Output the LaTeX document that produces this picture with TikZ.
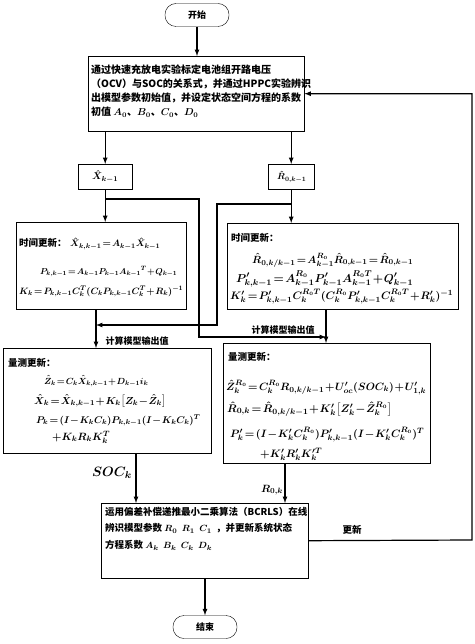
\documentclass[tikz,border=0pt]{standalone}
\usepackage{fontspec}
\usepackage{amsmath}
\usepackage{graphicx}
\newfontfamily\cjk{Noto Sans CJK SC}
\usetikzlibrary{arrows}
\newcommand{\fiteq}[2]{\resizebox{#1pt}{!}{\medmuskip=1mu\relax\thickmuskip=2mu\relax\boldmath$#2$}}
\tikzset{
    term/.style={
        draw, rectangle, rounded corners=11pt,
        minimum width=64pt, minimum height=23pt,
        inner sep=0pt, font=\cjk\bfseries\fontsize{9}{11}\selectfont
    },
    block/.style={draw, rectangle, inner sep=0pt, anchor=north west},
    txt/.style={anchor=west, inner sep=0pt, font=\cjk\bfseries\fontsize{9.5}{14}\selectfont},
    eq/.style={anchor=base west, inner sep=0pt, font=\fontsize{11}{13}\selectfont},
    connect/.style={-latex, line width=1.2pt},
    line width=1.2pt, x=1pt, y=-1pt
}

\begin{document}
\begin{tikzpicture}
	\useasboundingbox (0,0) rectangle (474,644);

	% start and first block
	\node[term] (start) at (197,15) {开始};
	\node[block, minimum width=216pt, minimum height=75pt] (init) at (88,56) {};
	\node[txt, anchor=north west, align=left, font=\cjk\bfseries\fontsize{10}{14}\selectfont] (inittext) at (91,65)
	    {通过快速充放电实验标定电池组开路电压\\（OCV）与SOC的关系式，并通过HPPC实验辨识\\出模型参数初始值，并设定状态空间方程的系数\\初值 $\boldsymbol{A_0}$、$\boldsymbol{B_0}$、$\boldsymbol{C_0}$、$\boldsymbol{D_0}$};

	% initial values
	\node[block, minimum width=54pt, minimum height=25pt] (xk) at (78,164) {};
	\node[eq] (xktext) at (92,180) {\fiteq{26}{\hat X_{k-1}}};
	\node[block, minimum width=46pt, minimum height=25pt] (rk) at (268,164) {};
	\node[eq] (rktext) at (277,180) {\fiteq{29}{\hat R_{0,k-1}}};

	% time update
	\node[block, minimum width=170pt, minimum height=87pt] (tu1) at (16,222) {};
	\node[txt] (tu1h) at (19,243) {时间更新：};
	\node[eq] (tu1a) at (70,247) {\fiteq{90}{\hat X_{k,k-1}=A_{k-1}\hat X_{k-1}}};
	\node[eq] (tu1b) at (40,274) {\fiteq{137}{P_{k,k-1}=A_{k-1}P_{k-1}{A_{k-1}}^T+Q_{k-1}}};
	\node[eq] (tu1c) at (19,294) {\fiteq{164}{K_k=P_{k,k-1}C_k^T(C_kP_{k,k-1}C_k^T+R_k)^{-1}}};

	\node[block, minimum width=231pt, minimum height=86pt] (tu2) at (227,223) {};
	\node[txt] (tu2h) at (231,238) {时间更新：};
	\node[eq] (tu2a) at (252,263) {\fiteq{161}{\hat R_{0,k/k-1}=A_{k-1}^{R_0}\hat R_{0,k-1}=\hat R_{0,k-1}}};
	\node[eq] (tu2b) at (236,282) {\fiteq{177}{P'_{k,k-1}=A_{k-1}^{R_0}P'_{k-1}A_{k-1}^{R_0T}+Q'_{k-1}}};
	\node[eq] (tu2c) at (230,299) {\fiteq{223}{K'_k=P'_{k,k-1}C_k^{R_0T}(C_k^{R_0}P'_{k,k-1}C_k^{R_0T}+R'_k)^{-1}}};

	% measurement update
	\node[block, minimum width=208pt, minimum height=105pt] (mu1) at (3,348) {};
	\node[txt] (mu1h) at (8,363) {量测更新：};
	\node[eq] (mu1a) at (44,384) {\fiteq{104}{\hat Z_k=C_k\hat X_{k,k-1}+D_{k-1}i_k}};
	\node[eq] (mu1b) at (34,404) {\fiteq{132}{\hat X_k=\hat X_{k,k-1}+K_k\bigl[Z_k-\hat Z_k\bigr]}};
	\node[eq] (mu1c) at (36,423) {\fiteq{164}{P_k=(I-K_kC_k)P_{k,k-1}(I-K_kC_k)^T}};
	\node[eq] (mu1d) at (52,440) {\fiteq{58}{+K_kR_kK_k^T}};

	\node[block, minimum width=207pt, minimum height=120pt] (mu2) at (223,343) {};
	\node[txt] (mu2h) at (228,357) {量测更新：};
	\node[eq] (mu2a) at (226,390) {\fiteq{200}{\hat Z_k^{R_0}=C_k^{R_0}R_{0,k/k-1}+U'_{oc}(SOC_k)+U'_{1,k}}};
	\node[eq] (mu2b) at (227,412) {\fiteq{165}{\hat R_{0,k}=\hat R_{0,k/k-1}+K'_k\bigl[Z'_k-\hat Z_k^{R_0}\bigr]}};
	\node[eq] (mu2c) at (230,437) {\fiteq{194}{P'_k=(I-K'_kC_k^{R_0})P'_{k,k-1}(I-K'_kC_k^{R_0})^T}};
	\node[eq] (mu2d) at (260,457) {\fiteq{62}{+K'_kR'_kK^{\prime T}_k}};

	% parameter identification and end
	\node[block, minimum width=207pt, minimum height=75pt] (bc) at (101,503) {};
	\node[txt, anchor=north west, align=left, font=\cjk\bfseries\fontsize{9.5}{16.5}\selectfont] (bctext) at (105,507)
	    {运用偏差补偿递推最小二乘算法（BCRLS）在线\\辨识模型参数 $\boldsymbol{R_0}$ \ $\boldsymbol{R_1}$ \ $\boldsymbol{C_1}$ \ ，并更新系统状态\\方程系数 $\boldsymbol{A_k}$ \ $\boldsymbol{B_k}$ \ $\boldsymbol{C_k}$ \ $\boldsymbol{D_k}$};
	\node[term] (end) at (205,627) {结束};

	% labels
	\node[eq, anchor=center] (soc) at (112,473) {\fiteq{40}{SOC_k}};
	\node[eq, anchor=center] (r0k) at (272,490) {\fiteq{22}{R_{0,k}}};
	\node[txt, anchor=center, font=\cjk\bfseries\fontsize{9}{11}\selectfont] (out1) at (137,341) {计算模型输出值};
	\node[txt, anchor=center, font=\cjk\bfseries\fontsize{9}{11}\selectfont] (out2) at (283,330) {计算模型输出值};
	\node[txt, anchor=center] (upd) at (352,530) {更新};

	% helper points
	\coordinate (xb) at (199,199);
	\coordinate (xj) at (199,337);
	\coordinate (rb) at (217,204);
	\coordinate (rj) at (217,325);
	\coordinate (tu1o) at (96,309);
	\coordinate (tu2o) at (326,309);
	\coordinate (mu1o) at (136,453);
	\coordinate (mu2o) at (285,463);
	\coordinate (fb) at (472,540);

	\draw[connect] (start) -- (start |- init.north);
	\draw[connect] (xk.north |- init.south) -- (xk.north);
	\draw[connect] (rk.north |- init.south) -- (rk.north);
	\draw[connect] (xk.south) -- (xk.south |- tu1.north);
	\draw[connect] (rk.south) -- (rk.south |- tu2.north);
	\draw[connect] (xk.south |- xb) -- (xb) -- (xj) -- (xj -| tu2o);
	\draw[connect] (rk.south |- rb) -- (rb) -- (rj) -- (rj -| tu1o);
	\draw[connect] (tu1o) -- (tu1o |- mu1.north);
	\draw[connect] (tu2o) -- (tu2o |- mu2.north);
	\draw[connect] (mu1o) -- (mu1o |- bc.north);
	\draw[connect] (mu2o) -- (mu2o |- bc.north);
	\draw[connect] (end |- bc.south) -- (end.north);
	\draw[connect] (bc.east) -- (fb) -- (fb |- init.east) -- (init.east);
\end{tikzpicture}
\end{document}
